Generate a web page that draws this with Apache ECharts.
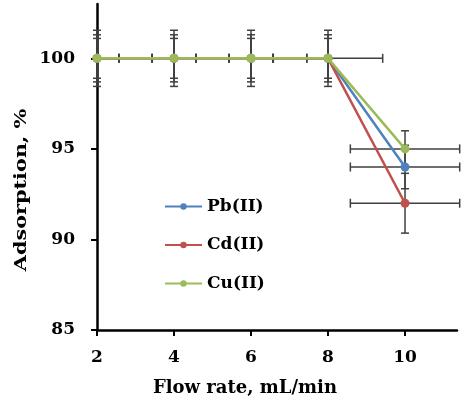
<!DOCTYPE html>
<html>
<head>
<meta charset="utf-8">
<script src="https://cdn.jsdelivr.net/npm/echarts@6/dist/echarts.min.js"></script>
<style>
html,body{margin:0;padding:0;background:#fff;}
#c{width:474px;height:408px;}
</style>
</head>
<body>
<div id="c"></div>
<script>
// ---- data ----
const flowRates = [2, 4, 6, 8, 10];
const xTicks = [2, 4, 6, 8, 10];
const yTicks = [85, 90, 95, 100];
const seriesNames = ['Pb(II)', 'Cd(II)', 'Cu(II)'];
const pbValues = [100, 100, 100, 100, 94];
const cdValues = [100, 100, 100, 100, 92];
const cuValues = [100, 100, 100, 100, 95];
// vertical error (±)
const pbYErr = [1.3, 1.3, 1.3, 1.3, 1.2];
const cdYErr = [1.55, 1.55, 1.55, 1.55, 1.65];
const cuYErr = [1.1, 1.1, 1.1, 1.1, 1.0];
// horizontal error (minus / plus)
const pbXErrMinus = [0, 0.57, 0.57, 1.42, 1.42];
const pbXErrPlus  = [0.57, 0.57, 0.57, 1.42, 1.42];
const cdXErrMinus = [0, 0.57, 0.57, 0.55, 1.42];
const cdXErrPlus  = [0.57, 0.57, 0.57, 0, 1.42];
const cuXErrMinus = [0, 0.57, 0.57, 0.55, 1.42];
const cuXErrPlus  = [0.57, 0.57, 0.57, 0, 1.42];

const colors = ['#4f81bd', '#c0504d', '#9bbb59'];
const FONT = 'DejaVu Serif';

const chart = echarts.init(document.getElementById('c'), null, {renderer: 'canvas'});

function lineData(vals) { return flowRates.map((x, i) => [x, vals[i]]); }
function errData(vals, ye, xm, xp) {
  return flowRates.map((x, i) => [x, vals[i], ye[i], xm[i], xp[i]]);
}

function renderErr(params, api) {
  const x = api.value(0), y = api.value(1), ye = api.value(2), xm = api.value(3), xp = api.value(4);
  const c = api.coord([x, y]);
  const t = api.coord([x, y + ye]);
  const b = api.coord([x, y - ye]);
  const l = api.coord([x - xm, y]);
  const r = api.coord([x + xp, y]);
  const style = {stroke: '#3f3f3f', lineWidth: 1.5};
  const ch = [];
  const cw = 4, chh = 4.5;
  ch.push({type: 'line', shape: {x1: c[0], y1: t[1], x2: c[0], y2: b[1]}, style});
  ch.push({type: 'line', shape: {x1: c[0] - cw, y1: t[1], x2: c[0] + cw, y2: t[1]}, style});
  ch.push({type: 'line', shape: {x1: c[0] - cw, y1: b[1], x2: c[0] + cw, y2: b[1]}, style});
  ch.push({type: 'line', shape: {x1: l[0], y1: c[1], x2: r[0], y2: c[1]}, style});
  if (xm > 0) ch.push({type: 'line', shape: {x1: l[0], y1: c[1] - chh, x2: l[0], y2: c[1] + chh}, style});
  if (xp > 0) ch.push({type: 'line', shape: {x1: r[0], y1: c[1] - chh, x2: r[0], y2: c[1] + chh}, style});
  return {type: 'group', children: ch};
}

const valuesList = [pbValues, cdValues, cuValues];
const yErrList = [pbYErr, cdYErr, cuYErr];
const xmList = [pbXErrMinus, cdXErrMinus, cuXErrMinus];
const xpList = [pbXErrPlus, cdXErrPlus, cuXErrPlus];

const series = [];
seriesNames.forEach((n, k) => {
  series.push({
    name: n + ' error', type: 'custom', renderItem: renderErr, clip: false, z: 1,
    encode: {x: 0, y: 1}, silent: true,
    data: errData(valuesList[k], yErrList[k], xmList[k], xpList[k])
  });
});
seriesNames.forEach((n, k) => {
  series.push({
    name: n, type: 'line', z: 3 + k, data: lineData(valuesList[k]),
    symbol: 'circle', symbolSize: 9, showSymbol: true,
    lineStyle: {color: colors[k], width: 2.5},
    itemStyle: {color: colors[k]},
    animation: false
  });
});

chart.setOption({
  animation: false,
  grid: {left: 97, right: 17, top: 4, bottom: 78, containLabel: false},
  legend: {
    data: seriesNames, orient: 'vertical', left: 159, top: 193,
    itemWidth: 37, itemHeight: 8, itemGap: 21.5,
    textStyle: {fontFamily: FONT, fontWeight: 'bold', fontSize: 17, color: '#000', lineHeight: 16}
  },
  xAxis: {
    type: 'value', min: 2, max: 11.35,
    axisLine: {show: true, lineStyle: {color: '#000', width: 2.5}},
    axisTick: {show: true, length: 6, lineStyle: {color: '#000', width: 2}, customValues: xTicks},
    axisLabel: {customValues: xTicks, fontFamily: FONT, fontWeight: 'bold', fontSize: 17, color: '#000', margin: 19},
    splitLine: {show: false}
  },
  yAxis: {
    type: 'value', min: 85, max: 103,
    axisLine: {show: true, onZero: false, lineStyle: {color: '#000', width: 2.5}},
    axisTick: {show: true, length: 6, lineStyle: {color: '#000', width: 2}, customValues: yTicks},
    axisLabel: {customValues: yTicks, fontFamily: FONT, fontWeight: 'bold', fontSize: 17, color: '#000', margin: 22},
    splitLine: {show: false}
  },
  graphic: [
    {type: 'text', x: 245, y: 388, style: {text: 'Flow rate, mL/min', fontFamily: FONT, fontWeight: 'bold', fontSize: 18, fill: '#000', align: 'center', verticalAlign: 'middle'}},
    {type: 'text', x: 22, y: 190, rotation: Math.PI / 2, scaleX: 1.3, style: {text: 'Adsorption, %', fontFamily: FONT, fontWeight: 'bold', fontSize: 16, fill: '#000', align: 'center', verticalAlign: 'middle'}}
  ],
  series
});
</script>
</body>
</html>
